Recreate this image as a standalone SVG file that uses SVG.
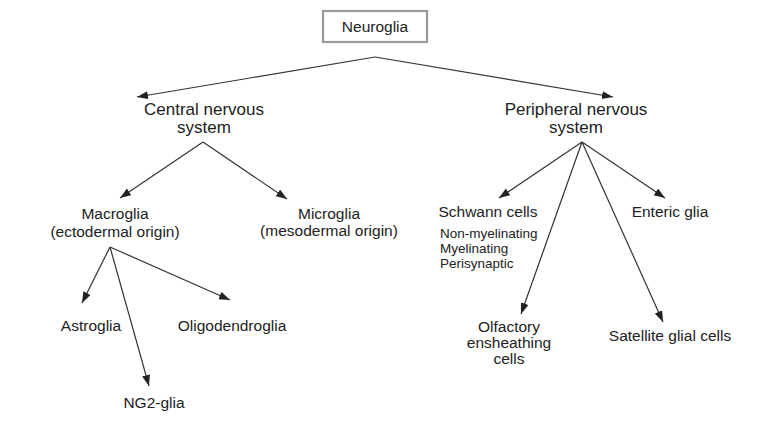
<svg xmlns="http://www.w3.org/2000/svg" width="768" height="425" viewBox="0 0 768 425">
<style>
text{font-family:"Liberation Sans",Arial,sans-serif;fill:#222;text-anchor:middle}
.t1{font-size:17px}
.t2{font-size:15.5px}
.t3{font-size:13.5px;text-anchor:start}
.c{fill:none;stroke:#333;stroke-width:1.2}
</style>
<defs>
<marker id="ah" markerUnits="userSpaceOnUse" markerWidth="12" markerHeight="10" refX="11" refY="4" orient="auto">
<path d="M0,0 L11,4 L0,8 z" fill="#222"/>
</marker>
</defs>
<rect width="768" height="425" fill="#fff"/>
<g id="connectors">
<path class="c" marker-end="url(#ah)" d="M375,57 L137,97"/>
<path class="c" marker-end="url(#ah)" d="M375,57 L613,97"/>
<path class="c" marker-end="url(#ah)" d="M203,142 L120,198"/>
<path class="c" marker-end="url(#ah)" d="M203,142 L287,199"/>
<path class="c" marker-end="url(#ah)" d="M110,247 L82,303"/>
<path class="c" marker-end="url(#ah)" d="M110,247 L149,386"/>
<path class="c" marker-end="url(#ah)" d="M110,247 L230,300"/>
<path class="c" marker-end="url(#ah)" d="M582,142 L499,198"/>
<path class="c" marker-end="url(#ah)" d="M582,142 L665,198"/>
<path class="c" marker-end="url(#ah)" d="M582,142 L521,314"/>
<path class="c" marker-end="url(#ah)" d="M582,142 L663,322"/>
</g>
<g id="neuroglia">
<rect x="323" y="11" width="104" height="31" fill="#fff" stroke="#9a9a9a" stroke-width="2.2"/>
<text class="t2" x="375" y="32">Neuroglia</text>
</g>
<g id="cns">
<text class="t1" x="204" y="115">Central nervous</text>
<text class="t1" x="204" y="133">system</text>
</g>
<g id="pns">
<text class="t1" x="576" y="115">Peripheral nervous</text>
<text class="t1" x="576" y="133">system</text>
</g>
<g id="macroglia">
<text class="t2" x="115" y="219">Macroglia</text>
<text class="t2" x="115" y="237">(ectodermal origin)</text>
</g>
<g id="microglia">
<text class="t2" x="329" y="219">Microglia</text>
<text class="t2" x="329" y="236">(mesodermal origin)</text>
</g>
<g id="astroglia"><text class="t2" x="91" y="331">Astroglia</text></g>
<g id="oligodendroglia"><text class="t2" x="232" y="331">Oligodendroglia</text></g>
<g id="ng2"><text class="t2" x="154" y="408">NG2-glia</text></g>
<g id="schwann">
<text class="t2" x="488" y="217">Schwann cells</text>
<text class="t3" x="440" y="238">Non-myelinating</text>
<text class="t3" x="440" y="253">Myelinating</text>
<text class="t3" x="440" y="268">Perisynaptic</text>
</g>
<g id="enteric"><text class="t2" x="670" y="217">Enteric glia</text></g>
<g id="olfactory">
<text class="t2" x="509" y="332">Olfactory</text>
<text class="t2" x="509" y="348">ensheathing</text>
<text class="t2" x="509" y="364">cells</text>
</g>
<g id="satellite"><text class="t2" x="670" y="341">Satellite glial cells</text></g>
</svg>
